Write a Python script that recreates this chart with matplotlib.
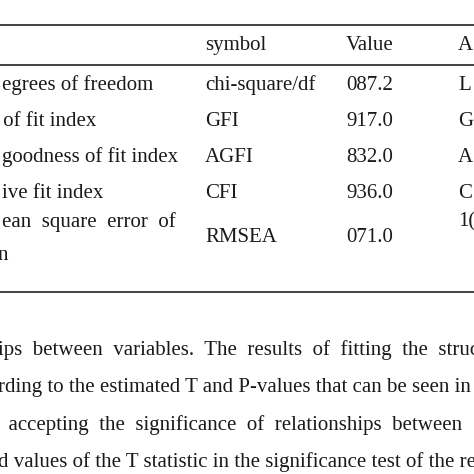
import matplotlib
matplotlib.use("Agg")
import matplotlib.pyplot as plt

header = ["symbol", "Value", "A"]
labels = ["egrees of freedom", " of fit index", "goodness of fit index", "ive fit index", "ean  square  error  of"]
symbols = ["chi-square/df", "GFI", "AGFI", "CFI", "RMSEA"]
values = ["087.2", "917.0", "832.0", "936.0", "071.0"]
accept = ["L", "G", "A", "C", "1("]
paragraph = [
    "ips  between  variables.  The  results  of  fitting  the  structu",
    "rding to the estimated T and P-values that can be seen in",
    "  accepting  the  significance  of  relationships  between  ",
    "d values of the T statistic in the significance test of the re",
]

fig = plt.figure(figsize=(4.74, 4.74), dpi=100)
ax = fig.add_axes([0, 0, 1, 1])
ax.set_xlim(0, 474); ax.set_ylim(474, 0); ax.axis("off")
font = dict(family=["Liberation Serif", "DejaVu Serif"], fontsize=15, color="#1a1a1a", va="center")

for y in (25, 65, 292):
    ax.plot([0, 474], [y, y], color="#333333", lw=1.3)

cols = [205, 346, 458]
for x, h in zip(cols, header):
    ax.text(x, 45, h, **font)
rows = [85, 121, 157, 193, 237]
for i, y in enumerate(rows):
    ly = 222 if i == 4 else y
    ax.text(2 if i != 1 else -2, ly, labels[i], **font)
    ax.text(cols[0], y, symbols[i], **font)
    ax.text(cols[1], y, values[i], **font)
    ax.text(cols[2], ly, accept[i], **font)
ax.text(-2, 256, "n", **font)

for i, line in enumerate(paragraph):
    ax.text(-2, 350 + i * 37.5, line, **font)

fig.savefig("out.png", dpi=100)
